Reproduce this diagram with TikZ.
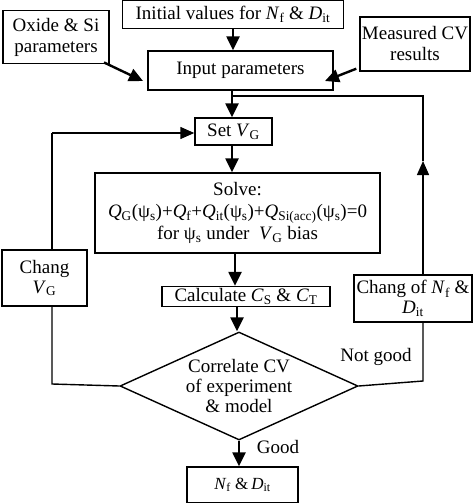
\documentclass[tikz,border=0pt]{standalone}
\usepackage{fontspec}
\setmainfont{Liberation Serif}
\usetikzlibrary{arrows.meta,shapes.geometric}
\newcommand{\sbx}[1]{\textsubscript{#1}}
\begin{document}
\begin{tikzpicture}[x=1pt,y=-1pt,
  box/.style={draw,line width=1.4pt,inner sep=0pt,align=center,font=\fontsize{19}{21}\selectfont},
  arr/.style={line width=2.4pt,-{Triangle[length=14pt,width=13pt]}},
  ln/.style={line width=1.4pt},
  lbl/.style={font=\fontsize{19}{21}\selectfont}]
\useasboundingbox (0,0) rectangle (474,503);
\node[box,minimum width=221pt,minimum height=28pt] (init) at (233,14.5) {Initial values for \textit{N}\sbx{f} \& \textit{D}\sbx{it}};
\node[box,line width=1.9pt,minimum width=106pt,minimum height=53pt] (oxide) at (56,37) {Oxide \& Si\\parameters};
\node[box,minimum width=110pt,minimum height=54pt] (meas) at (415,44) {Measured CV\\results};
\node[box,minimum width=185pt,minimum height=39pt] (input) at (240.5,70.5) {Input parameters};
\node[box,minimum width=77pt,minimum height=27pt] (set) at (233.5,131.5) {Set \textit{V}\sbx{G}};
\node[box,minimum width=285pt,minimum height=80pt,font=\fontsize{19}{22}\selectfont] (solve) at (237.5,213) {Solve:\\
  \textit{Q}\sbx{G}(ψ\sbx{s})+\textit{Q}\sbx{f}+\textit{Q}\sbx{it}(ψ\sbx{s})+\textit{Q}\sbx{Si(acc)}(ψ\sbx{s})=0\\
  for ψ\sbx{s} under~ \textit{V}\sbx{G} bias};
\node[box,minimum width=168pt,minimum height=20pt] (calc) at (246,296.5) {Calculate \textit{C}\sbx{S} \& \textit{C}\sbx{T}};
\node[box,minimum width=85pt,minimum height=56pt,font=\fontsize{19}{20}\selectfont] (chvg) at (44.5,278) {Chang\\\textit{V}\sbx{G}};
\node[box,minimum width=118pt,minimum height=47pt,font=\fontsize{19}{20}\selectfont] (chnf) at (413,298.5) {Chang of \textit{N}\sbx{f} \&\\\textit{D}\sbx{it}};
\node[draw,diamond,line width=1.4pt,aspect=2.2,minimum width=238pt,minimum height=108pt,inner sep=0pt,align=center,font=\fontsize{19}{20}\selectfont] (dia) at (239,386) {Correlate CV\\of experiment\\\& model};
\node[box,minimum width=111pt,minimum height=36pt,font=\fontsize{17}{19}\selectfont] (fin) at (242.5,485) {\textit{N}\sbx{f} \&\,\textit{D}\sbx{it}};
\node[lbl] (ng) at (376,357) {Not good};
\node[lbl] (gd) at (278,447) {Good};
% arrows
\draw[arr] (init.south) -- (init.south |- input.north);
\draw[arr] (oxide.south east) ++(-6,-2) coordinate (o1) -- (143,81) coordinate (o2);
\draw[arr] (meas.south west) ++(-3,-3) coordinate (m1) -- (325,81) coordinate (m2);
\draw[arr] (232,90) coordinate (i1) -- (set.north -| i1);
\draw[arr] (set.south -| i1) -- (solve.north -| i1);
\draw[arr] (235,253) coordinate (s1) -- (calc.north -| s1);
\draw[arr] (237,306) coordinate (c1) -- (dia.north -| c1);
\draw[arr] (dia.south) -- (fin.north -| dia.south);
% loops
\coordinate (vg1) at (52,133);
\draw[ln] (chvg.north -| vg1) -- (vg1);
\draw[ln,-{Triangle[length=14pt,width=12pt]}] (vg1) -- (set.west |- vg1);
\coordinate (vg2) at (52,384);
\draw[ln] (chvg.south -| vg2) -- (vg2) -- (dia.west);
\coordinate (r1) at (423,381);
\draw[ln] (dia.east) -- (r1) -- (chnf.south -| r1);
\coordinate (r2) at (423,96);
\coordinate (r3) at (423,161);
\draw[ln,-{Triangle[length=14pt,width=12pt]}] (chnf.north -| r1) -- (r3);
\draw[ln] (r3) -- (r2) -- (232,96);
\end{tikzpicture}
\end{document}
